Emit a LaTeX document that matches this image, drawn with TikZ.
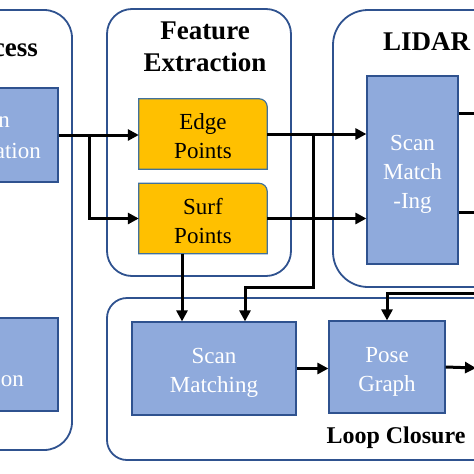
\documentclass[tikz,border=0pt]{standalone}
\usepackage{fontspec}
\setmainfont{Liberation Serif}
\usetikzlibrary{arrows.meta,positioning,backgrounds}
\definecolor{boxblue}{HTML}{8FAADC}
\definecolor{lineblue}{HTML}{2F528F}
\definecolor{ptyellow}{HTML}{FFC000}
\definecolor{ptedge}{HTML}{41719C}
\newcommand{\liftA}{\rule{0pt}{24pt}}
\newcommand{\liftB}{\rule{0pt}{21pt}}

\begin{document}
\begin{tikzpicture}[x=1pt,y=1pt]
    \tikzstyle{every node}+=[inner sep=0pt]
    \tikzstyle{group}=[draw=lineblue, line width=1.8pt]
    \tikzstyle{stage}=[draw=lineblue, fill=boxblue, line width=1.2pt, text=white, align=center, font=\fontsize{23}{29}\selectfont]
    \tikzstyle{cut}=[text=white, anchor=east, font=\fontsize{23}{29}\selectfont]
    \tikzstyle{points}=[align=center, font=\fontsize{23}{29}\selectfont, minimum width=128pt, minimum height=70pt]
    \tikzstyle{title}=[align=center, font=\bfseries\fontsize{27}{32}\selectfont]
    \tikzstyle{flow}=[line width=3pt, -{Triangle[length=11pt,width=11pt]}]
    \tikzstyle{wire}=[line width=3pt]
    \useasboundingbox (0,0) rectangle (474,-474);
    \clip (0,0) rectangle (474,-474);

    % groups
    \node[group, rounded corners=28pt, minimum width=112pt, minimum height=440pt] (pre) at (16,-230) {};
    \node[group, rounded corners=25pt, minimum width=184pt, minimum height=267pt] (fe) at (199,-142.5) {};
    \node[group, rounded corners=35pt, minimum width=207pt, minimum height=277pt] (lidar) at (436.5,-148.5) {};
    \node[group, rounded corners=20pt, minimum width=433pt, minimum height=162pt] (loop) at (323.5,-379) {};
    \node[title, anchor=east] (pretitle) at (38,-50) {cess};
    \node[title] (fetitle) at (205,-47) {Feature\\Extraction};
    \node[title, anchor=west] (lidartitle) at (383,-42) {LIDAR};
    \node[title, font=\bfseries\fontsize{24}{29}\selectfont] (looptitle) at (396,-438) {Loop Closure};

    % blocks
    \node[stage, minimum width=118pt, minimum height=94pt] (segA) at (-1,-135) {};
    \node[cut] (segAone) at (10,-122) {n};
    \node[cut] (segAtwo) at (41,-151) {ation};
    \node[stage, minimum width=118pt, minimum height=93pt] (segB) at (-1,-364.5) {};
    \node[cut] (segBtwo) at (24,-381) {on};
    \node[points] (edge) at (203,-134) {\liftB Edge\\Points};
    \node[points] (surf) at (203,-218.5) {\liftB Surf\\Points};
    \foreach \blk in {edge,surf}{
        \begin{scope}[on background layer]
            \filldraw[fill=ptyellow, draw=ptedge, line width=1.2pt] (\blk.south west) -- (\blk.north west)
                -- ([xshift=-8pt]\blk.north east) arc[start angle=90, end angle=0, radius=8pt]
                -- (\blk.south east) -- cycle;
        \end{scope}
    }
    \node[stage, minimum width=91pt, minimum height=188pt] (scanL) at (412.5,-170) {\liftA Scan\\Match\\-Ing};
    \node[stage, minimum width=164pt, minimum height=93pt] (scanB) at (214,-368.5) {\liftA Scan\\Matching};
    \node[stage, minimum width=116pt, minimum height=92pt] (pose) at (387,-367) {\liftA Pose\\Graph};

    % links
    \coordinate (splitA) at (89,-135);
    \coordinate (splitB) at (313,-134);
    \coordinate (bendB) at (313,-287);
    \coordinate (dropB) at (245,-287);
    \coordinate (dropA) at (182,0);
    \coordinate (outA) at (490,-113);
    \coordinate (outB) at (490,-212);
    \coordinate (inC) at (490,-293);
    \coordinate (outC) at (476,-368);
    \draw[flow] (segA.east) -- (segA.east -| edge.west);
    \draw[flow] (splitA) |- (surf.west);
    \draw[flow] (edge.east) -- (edge.east -| scanL.west);
    \draw[flow] (surf.east) -- (surf.east -| scanL.west);
    \draw[flow] (splitB) -- (bendB) -- (dropB) -- (dropB |- scanB.north);
    \draw[flow] (surf.south -| dropA) -- (scanB.north -| dropA);
    \draw[wire] (scanL.east |- outA) -- (outA);
    \draw[wire] (scanL.east |- outB) -- (outB);
    \draw[flow] (inC) -| (pose.north);
    \draw[flow] (scanB.east) -- (scanB.east -| pose.west);
    \draw[flow] (pose.east) -- (outC);
\end{tikzpicture}
\end{document}
